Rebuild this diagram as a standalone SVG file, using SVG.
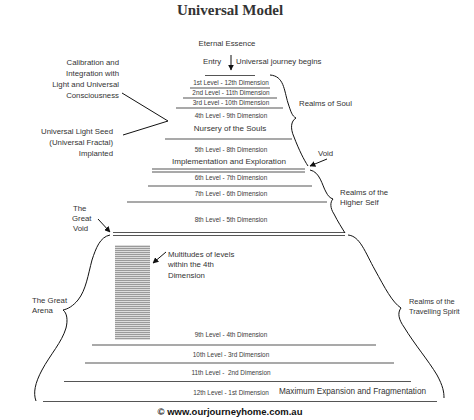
<svg xmlns="http://www.w3.org/2000/svg" width="474" height="420" viewBox="0 0 474 420">
<style>
.t{font-family:"Liberation Sans",Arial,sans-serif;fill:#333}
.lv{font-size:6.4px;text-anchor:middle;fill:#3a3a3a}
.lb{font-size:7.8px}
.mid{text-anchor:middle}
.end{text-anchor:end}
.ln{stroke:#555;stroke-width:1.15;fill:none}
.cv{stroke:#111;stroke-width:1;fill:none}
.ar{stroke:#111;stroke-width:1;fill:none;marker-end:url(#ah)}
</style>
<defs>
<marker id="ah" viewBox="0 0 10 10" refX="9" refY="5" markerWidth="6" markerHeight="6" markerUnits="userSpaceOnUse" orient="auto">
<path d="M0,0 L10,5 L0,10 z" fill="#111"/>
</marker>
<pattern id="stripes" width="4" height="2" patternUnits="userSpaceOnUse">
<rect width="4" height="2" fill="#dcdcdc"/>
<rect width="4" height="1" fill="#9a9a9a"/>
</pattern>
</defs>
<rect width="474" height="420" fill="#fff"/>
<text x="230" y="15" style="font-family:'Liberation Serif','Times New Roman',serif;font-weight:bold;font-size:15px;fill:#333;text-anchor:middle">Universal Model</text>

<g id="entry">
<text class="t lb mid" x="227" y="46">Eternal Essence</text>
<text class="t lb" x="203" y="64">Entry</text>
<text class="t lb" x="236" y="64">Universal journey begins</text>
</g>

<g id="levels">
<g id="level1"><line class="ln" x1="205" y1="75.5" x2="255" y2="75.5"/><text class="t lv" x="231" y="85">1st Level - 12th Dimension</text></g>
<g id="level2"><line class="ln" x1="190" y1="88" x2="270" y2="88"/><text class="t lv" x="231" y="95">2nd Level - 11th Dimension</text></g>
<g id="level3"><line class="ln" x1="183" y1="98" x2="277" y2="98"/><text class="t lv" x="231" y="104.5">3rd Level - 10th Dimension</text></g>
<g id="level4"><line class="ln" x1="176" y1="108" x2="283" y2="108"/><text class="t lv" x="231" y="118">4th Level - 9th Dimension</text>
<text class="t mid" style="font-size:8px" x="230" y="131">Nursery of the Souls</text></g>
<g id="level5"><line class="ln" x1="165" y1="139" x2="292" y2="139"/><text class="t lv" x="231" y="152">5th Level - 8th Dimension</text>
<text class="t mid" style="font-size:8.1px" x="229" y="163.5">Implementation and Exploration</text></g>
<g id="level6"><line class="ln" x1="152" y1="169" x2="305" y2="169"/><line class="ln" x1="152" y1="172" x2="305" y2="172"/><text class="t lv" x="231" y="179.5">6th Level - 7th Dimension</text></g>
<g id="level7"><line class="ln" x1="148" y1="186" x2="312" y2="186"/><text class="t lv" x="231" y="196">7th Level - 6th Dimension</text></g>
<g id="level8"><line class="ln" x1="127" y1="202" x2="327" y2="202"/><text class="t lv" x="231" y="221.5">8th Level - 5th Dimension</text></g>
<g id="level8b"><line class="ln" x1="113" y1="232.5" x2="345" y2="232.5"/><line class="ln" x1="113" y1="235.5" x2="345" y2="235.5"/></g>
<g id="level9"><rect x="115" y="245" width="35" height="95" fill="url(#stripes)"/><text class="t lv" x="231" y="336.5">9th Level - 4th Dimension</text></g>
<g id="level10"><line class="ln" x1="92" y1="345" x2="376" y2="345"/><text class="t lv" x="231" y="357">10th Level - 3rd Dimension</text></g>
<g id="level11"><line class="ln" x1="85" y1="363" x2="394" y2="363"/><text class="t lv" x="231" y="375" style="white-space:pre">11th Level -  2nd Dimension</text></g>
<g id="level12"><line class="ln" x1="64" y1="381.5" x2="411" y2="381.5"/><text class="t lv" x="231" y="395">12th Level - 1st Dimension</text>
<text class="t" style="font-size:8.2px" x="279" y="393.5">Maximum Expansion and Fragmentation</text>
<line class="ln" x1="43" y1="401.5" x2="437" y2="401.5"/></g>
</g>

<g id="labels">
<g id="calibration"><text class="t lb end" x="119" y="65">Calibration and</text><text class="t lb end" x="119" y="76">Integration with</text><text class="t lb end" x="119" y="87">Light and Universal</text><text class="t lb end" x="119" y="98">Consciousness</text></g>
<g id="seed"><text class="t lb end" x="113" y="134">Universal Light Seed</text><text class="t lb end" x="113" y="145">(Universal Fractal)</text><text class="t lb end" x="113" y="156">Implanted</text></g>
<g id="soul"><text class="t lb" x="299" y="106">Realms of Soul</text></g>
<g id="void"><text class="t lb" x="318" y="156">Void</text></g>
<g id="higher"><text class="t lb" x="340" y="195">Realms of the</text><text class="t lb" x="340" y="205">Higher Self</text></g>
<g id="greatvoid"><text class="t lb" x="73" y="211">The</text><text class="t lb" x="72" y="221">Great</text><text class="t lb" x="73" y="231">Void</text></g>
<g id="multitudes"><text class="t lb" x="168" y="257">Multitudes of levels</text><text class="t lb" x="168" y="267">within the 4th</text><text class="t lb" x="168" y="277.5">Dimension</text></g>
<g id="arena"><text class="t lb" x="32" y="303">The Great</text><text class="t lb" x="32" y="313">Arena</text></g>
<g id="travelling"><text class="t lb" x="409" y="304" style="font-size:7.4px">Realms of the</text><text class="t lb" x="409" y="314" style="font-size:7.4px">Travelling Spirit</text></g>
</g>

<g id="connectors">
<line class="ar" x1="231" y1="55" x2="231" y2="70"/>
<polyline class="cv" points="122,93 168,121 123,135"/>
<line class="ar" x1="327" y1="159" x2="310" y2="166"/>
<line class="ar" x1="98" y1="219" x2="110" y2="232"/>
<line class="ar" x1="166" y1="252" x2="153" y2="263"/>
<path class="cv" d="M270,75 C284,76 284,90 288,103 C291,112 292,116 296,118 C291,121 290,128 294,137 C299,150 304,160 308,166"/>
<path class="cv" d="M310,170 C320,172 322,185 326,192 C328,196 330,198 333,199 C330,202 330,208 334,214 C338,222 342,228 345,233"/>
<path class="cv" d="M348,235 C360,236 365,252 375,270 C385,288 392,302 401,308 C397,313 399,320 404,327 C415,345 428,360 437,375 C443,386 444,392 444,398"/>
<path class="cv" d="M110,235 C100,237 96,248 92,260 C88,275 86,290 78,300 C73,306 68,309 63,310 C67,313 68,320 66,328 C62,342 50,355 42,370 C35,383 33,393 36,401"/>
</g>

<text x="230" y="415" style="font-family:'Liberation Sans',Arial,sans-serif;font-weight:bold;font-size:9.5px;fill:#111;text-anchor:middle">© www.ourjourneyhome.com.au</text>
</svg>
